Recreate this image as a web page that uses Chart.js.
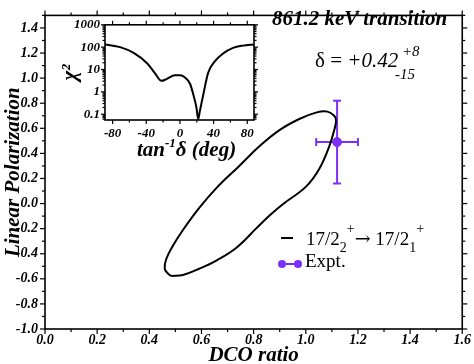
<!DOCTYPE html>
<html>
<head>
<meta charset="utf-8">
<script src="https://cdn.jsdelivr.net/npm/chart.js@4.4.1/dist/chart.umd.min.js"></script>
<style>
  body { margin:0; background:#fff; }
  #wrap { position:relative; width:474px; height:364px; overflow:hidden; font-family:'Liberation Serif', serif; }
  canvas { position:absolute; }
  .txt { position:absolute; white-space:nowrap; line-height:1; color:#000; font-family:'Liberation Serif', serif; }
  .up, .dn { position:relative; vertical-align:baseline; }
</style>
</head>
<body>
<div id="wrap">
  <canvas id="main" width="474" height="364" style="left:0;top:0"></canvas>
  <canvas id="inset" width="215" height="148" style="left:55px;top:12px"></canvas>

  <div class="txt" style="left:272px;top:8px;font-size:21px;font-weight:bold;font-style:italic">861.2 keV transition</div>

  <div class="txt" style="left:315px;top:50px;font-size:21px">δ = <i>+0.42</i></div>
  <div class="txt" style="left:402px;top:44px;font-size:15px;font-style:italic">+8</div>
  <div class="txt" style="left:395px;top:67px;font-size:15px;font-style:italic">-15</div>

  <div class="txt" style="left:137px;top:139px;font-size:21px;font-weight:bold;font-style:italic">tan<span class="up" style="font-size:13px;top:-9px">-1</span>δ (deg)</div>

  <div style="position:absolute;left:281px;top:237px;width:12px;border-top:2px solid #000"></div>
  <div class="txt" style="left:306px;top:229px;font-size:19px">17/2<span class="dn" style="font-size:14px;top:7px">2</span><span class="up" style="font-size:14px;top:-12px">+</span><span style="font-family:'DejaVu Serif', serif;font-size:19px">→</span> 17/2<span class="dn" style="font-size:14px;top:7px">1</span><span class="up" style="font-size:14px;top:-12px">+</span></div>

  <div style="position:absolute;left:282px;top:263px;width:16px;border-top:2px solid #7b2ff7"></div>
  <div style="position:absolute;left:278px;top:260px;width:8px;height:8px;border-radius:50%;background:#7b2ff7"></div>
  <div style="position:absolute;left:294px;top:260px;width:8px;height:8px;border-radius:50%;background:#7b2ff7"></div>
  <div class="txt" style="left:305px;top:251px;font-size:19px">Expt.</div>
</div>

<script>
// calculated curve (17/2+ -> 17/2+), DCO ratio vs linear polarization
const ellX = [0.484, 0.471, 0.459, 0.465, 0.490, 0.529, 0.593, 0.657, 0.746, 0.822, 0.899, 0.975, 1.039, 1.083, 1.109, 1.116, 1.109, 1.090, 1.052, 1.001, 0.912, 0.861, 0.810, 0.734, 0.657, 0.593, 0.529, 0.484];
const ellY = [-0.577, -0.557, -0.518, -0.442, -0.338, -0.211, -0.031, 0.123, 0.302, 0.456, 0.585, 0.674, 0.725, 0.733, 0.700, 0.662, 0.585, 0.456, 0.277, 0.135, -0.005, -0.095, -0.198, -0.352, -0.454, -0.518, -0.569, -0.577];

// experimental point
const exptX = [1.12];
const exptY = [0.49];
const exptXErr = [0.08];
const exptYErrPlus = [0.33];
const exptYErrMinus = [0.33];

// inset: chi2 vs arctan(delta)
const phaseDeg = [-89, -71, -55, -39, -30, -22, -16, -6, 0, 6, 12, 16.6, 19.7, 21.7, 23.7, 27.6, 33.5, 41.4, 51.3, 63.1, 75, 88];
const chi2 = [131, 100, 55, 19, 7.1, 3.1, 3.7, 5.5, 5.5, 4.4, 2.3, 0.6, 0.19, 0.06, 0.14, 0.71, 7.1, 23, 52, 93, 117, 131];

// tick labels
const xTicks = [0.0, 0.2, 0.4, 0.6, 0.8, 1.0, 1.2, 1.4, 1.6];
const yTicks = [-1.0, -0.8, -0.6, -0.4, -0.2, 0.0, 0.2, 0.4, 0.6, 0.8, 1.0, 1.2, 1.4];
const insetXTicks = [-80, -40, 0, 40, 80];
const insetYTicks = [0.1, 1, 10, 100, 1000];

const PURPLE = '#7b2ff7';
const FAM = "'Liberation Serif', serif";
const tickFont = { family: FAM, size: 14, style: 'italic', weight: 'bold' };
const insetTickFont = { family: FAM, size: 13, style: 'italic', weight: 'bold' };

function mids(arr) {
  const out = [];
  for (let i = 0; i < arr.length - 1; i++) out.push((arr[i] + arr[i + 1]) / 2);
  return out;
}

/* FRAME + OUTSIDE TICKS */
const frameTicks = {
  id: 'frameTicks',
  afterDraw(chart, args, o) {
    const { ctx, chartArea: a, scales: { x, y } } = chart;
    ctx.save();
    ctx.strokeStyle = '#000';
    ctx.lineWidth = o.frameWidth;
    ctx.strokeRect(a.left, a.top, a.right - a.left, a.bottom - a.top);
    ctx.lineWidth = 1.2;
    const seg = (x0, y0, x1, y1) => { ctx.beginPath(); ctx.moveTo(x0, y0); ctx.lineTo(x1, y1); ctx.stroke(); };
    const doX = (vals, len) => vals.forEach(v => {
      const p = x.getPixelForValue(v);
      seg(p, a.bottom, p, a.bottom + len);
      seg(p, a.top, p, a.top - len);
    });
    const doY = (vals, len) => vals.forEach(v => {
      const p = y.getPixelForValue(v);
      if (p < a.top - 0.5 || p > a.bottom + 0.5) return;
      seg(a.left, p, a.left - len, p);
      seg(a.right, p, a.right + len, p);
    });
    doX(o.xMajor, o.major); doX(o.xMinor, o.minor);
    doY(o.yMajor, o.major); doY(o.yMinor, o.minor);
    ctx.restore();
  }
};

/* ERROR BARS */
const errorBars = {
  id: 'errorBars',
  beforeDatasetsDraw(chart) {
    const { ctx, scales: { x, y } } = chart;
    ctx.save();
    ctx.strokeStyle = PURPLE;
    ctx.lineWidth = 2;
    const seg = (x0, y0, x1, y1) => { ctx.beginPath(); ctx.moveTo(x0, y0); ctx.lineTo(x1, y1); ctx.stroke(); };
    const cap = 4;
    exptX.forEach((vx, i) => {
      const px = x.getPixelForValue(vx), py = y.getPixelForValue(exptY[i]);
      const xl = x.getPixelForValue(vx - exptXErr[i]), xr = x.getPixelForValue(vx + exptXErr[i]);
      const yb = y.getPixelForValue(exptY[i] - exptYErrMinus[i]), yt = y.getPixelForValue(exptY[i] + exptYErrPlus[i]);
      seg(xl, py, xr, py); seg(xl, py - cap, xl, py + cap); seg(xr, py - cap, xr, py + cap);
      seg(px, yt, px, yb); seg(px - cap, yt, px + cap, yt); seg(px - cap, yb, px + cap, yb);
    });
    ctx.restore();
  }
};

new Chart(document.getElementById('main'), {
  type: 'scatter',
  data: {
    datasets: [
      {
        label: '17/2+ -> 17/2+',
        data: ellX.map((v, i) => ({ x: v, y: ellY[i] })),
        showLine: true, borderColor: '#000', borderWidth: 2, pointRadius: 0, tension: 0.4, fill: false
      },
      {
        label: 'Expt.',
        data: exptX.map((v, i) => ({ x: v, y: exptY[i] })),
        pointRadius: 4.5, backgroundColor: PURPLE, borderColor: PURPLE, showLine: false
      }
    ]
  },
  options: {
    responsive: false, animation: false, devicePixelRatio: 1,
    layout: { padding: { top: 4, right: 11, left: 0, bottom: 0 } },
    plugins: {
      legend: { display: false }, tooltip: { enabled: false },
      frameTicks: { frameWidth: 1.6, major: 5, minor: 3, xMajor: xTicks, xMinor: mids(xTicks), yMajor: yTicks.concat([1.6]), yMinor: mids(yTicks.concat([1.6])) }
    },
    scales: {
      x: {
        type: 'linear', min: 0, max: 1.6,
        grid: { display: false, drawTicks: false }, border: { display: false },
        afterBuildTicks: s => { s.ticks = xTicks.map(v => ({ value: v })); },
        afterFit: s => { s.height = 35; },
        ticks: { padding: 3, maxRotation: 0, color: '#000', font: tickFont, callback: v => v.toFixed(1) },
        title: { display: true, text: 'DCO ratio', color: '#000', padding: 0,
                 font: { family: FAM, size: 21, style: 'italic', weight: 'bold', lineHeight: 0.8 } }
      },
      y: {
        type: 'linear', min: -1.0, max: 1.5,
        grid: { display: false, drawTicks: false }, border: { display: false },
        afterBuildTicks: s => { s.ticks = yTicks.map(v => ({ value: v })); },
        afterFit: s => { s.width = 45; },
        ticks: { padding: 7, color: '#000', font: tickFont, callback: v => v.toFixed(1) },
        title: { display: true, text: 'Linear Polarization', color: '#000', padding: { top: 1, bottom: 0 },
                 font: { family: FAM, size: 21, style: 'italic', weight: 'bold' } }
      }
    }
  },
  plugins: [frameTicks, errorBars]
});

/* INSET */
const logMinor = [];
[0.01, 0.1, 1, 10, 100].forEach(d => { for (let k = 2; k <= 9; k++) logMinor.push(d * k); });

new Chart(document.getElementById('inset'), {
  type: 'scatter',
  data: {
    datasets: [{
      label: 'chi2',
      data: phaseDeg.map((v, i) => ({ x: v, y: chi2[i] })),
      showLine: true, borderColor: '#000', borderWidth: 2, pointRadius: 0,
      cubicInterpolationMode: 'monotone', fill: false
    }]
  },
  options: {
    responsive: false, animation: false, devicePixelRatio: 1,
    layout: { padding: { top: 10, right: 16, left: 0, bottom: 0 } },
    plugins: {
      legend: { display: false }, tooltip: { enabled: false },
      frameTicks: { frameWidth: 1.6, major: 4, minor: 2.5, xMajor: insetXTicks, xMinor: mids(insetXTicks), yMajor: insetYTicks, yMinor: logMinor }
    },
    scales: {
      x: {
        type: 'linear', min: -89, max: 88,
        grid: { display: false, drawTicks: false }, border: { display: false },
        afterBuildTicks: s => { s.ticks = insetXTicks.map(v => ({ value: v })); },
        afterFit: s => { s.height = 40; },
        ticks: { padding: 6, maxRotation: 0, color: '#000', font: insetTickFont, callback: v => String(v) }
      },
      y: {
        type: 'logarithmic', min: 0.055, max: 1000,
        grid: { display: false, drawTicks: false }, border: { display: false },
        afterBuildTicks: s => { s.ticks = insetYTicks.map(v => ({ value: v })); },
        afterFit: s => { s.width = 50; },
        ticks: { padding: 5, color: '#000', font: insetTickFont, callback: v => String(v) },
        title: { display: true, text: 'χ²', color: '#000', padding: { top: 5, bottom: 0 },
                 font: { family: FAM, size: 21, style: 'italic', weight: 'bold', lineHeight: 1 } }
      }
    }
  },
  plugins: [frameTicks]
});
</script>
</body>
</html>
